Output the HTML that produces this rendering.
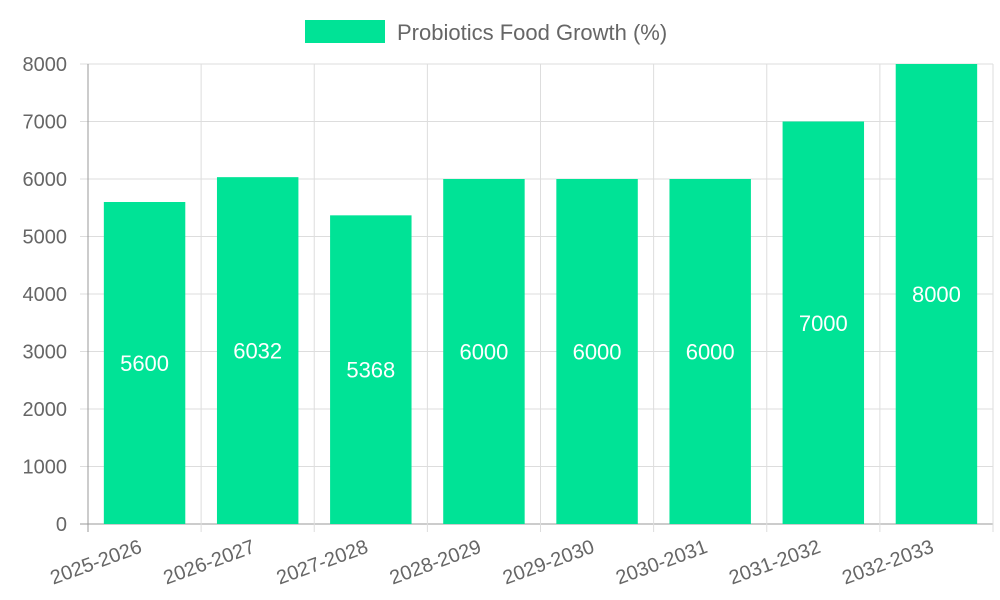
<!DOCTYPE html>
<html><head><meta charset="utf-8"><style>
body{margin:0;background:#fff;}
svg{display:block;font-family:"Liberation Sans",sans-serif;}
</style></head><body>
<svg id="chart" width="1000" height="600">
<g>
<rect x="305" y="20" width="80" height="23" fill="#00e396"/>
<text x="397" y="40" font-size="22" fill="#666">Probiotics Food Growth (%)</text>
</g>
<g id="grid"></g><g id="bars"></g><g id="axes"></g>
</svg>
<script>
const categories=["2025-2026","2026-2027","2027-2028","2028-2029","2029-2030","2030-2031","2031-2032","2032-2033"];
const values=[5600,6032,5368,6000,6000,6000,7000,8000];
const yTicks=[0,1000,2000,3000,4000,5000,6000,7000,8000];
const L=88,R=993,T=64,B=524,yMax=8000;
const ns="http://www.w3.org/2000/svg";
const bw=(R-L)/categories.length;
function y(v){return B-(v/yMax)*(B-T);}
function x(i){return L+bw*i;}
function mk(tag,attrs,parent,txt){const e=document.createElementNS(ns,tag);for(const k in attrs)e.setAttribute(k,attrs[k]);if(txt!==undefined)e.textContent=txt;document.getElementById(parent).appendChild(e);return e;}
yTicks.forEach(t=>{
 const g=mk('line',{x1:80,x2:R,y1:y(t),y2:y(t),stroke:t===0?'#999':'#ddd','stroke-width':1},'grid');
 
 
 const l=mk('text',{x:67,y:y(t)+7,'font-size':20,fill:'#666','text-anchor':'end'},'axes',t);
 
 
});
for(let i=0;i<=categories.length;i++){
 const g=mk('line',{x1:x(i),x2:x(i),y1:T,y2:B+8,stroke:i===0?'#999':'#ddd','stroke-width':1},'grid');
 
 
}
categories.forEach((c,i)=>{
 const cx=x(i)+bw/2, w=bw*0.72;
 const b=mk('rect',{x:cx-w/2,y:y(values[i]),width:w,height:B-y(values[i]),fill:'#00e396'},'bars');
 
 
 const vl=mk('text',{x:cx,y:(y(values[i])+B)/2+8,'font-size':22,fill:'#fff','text-anchor':'middle'},'bars',values[i]);
 
 
 const tx=x(i)+bw-58, ty=B+28;
 const xl=mk('text',{x:tx,y:ty,'font-size':20,fill:'#666','text-anchor':'end',transform:`rotate(-20 ${tx} ${ty})`},'axes',c);
 
 
});
</script>
</body></html>
